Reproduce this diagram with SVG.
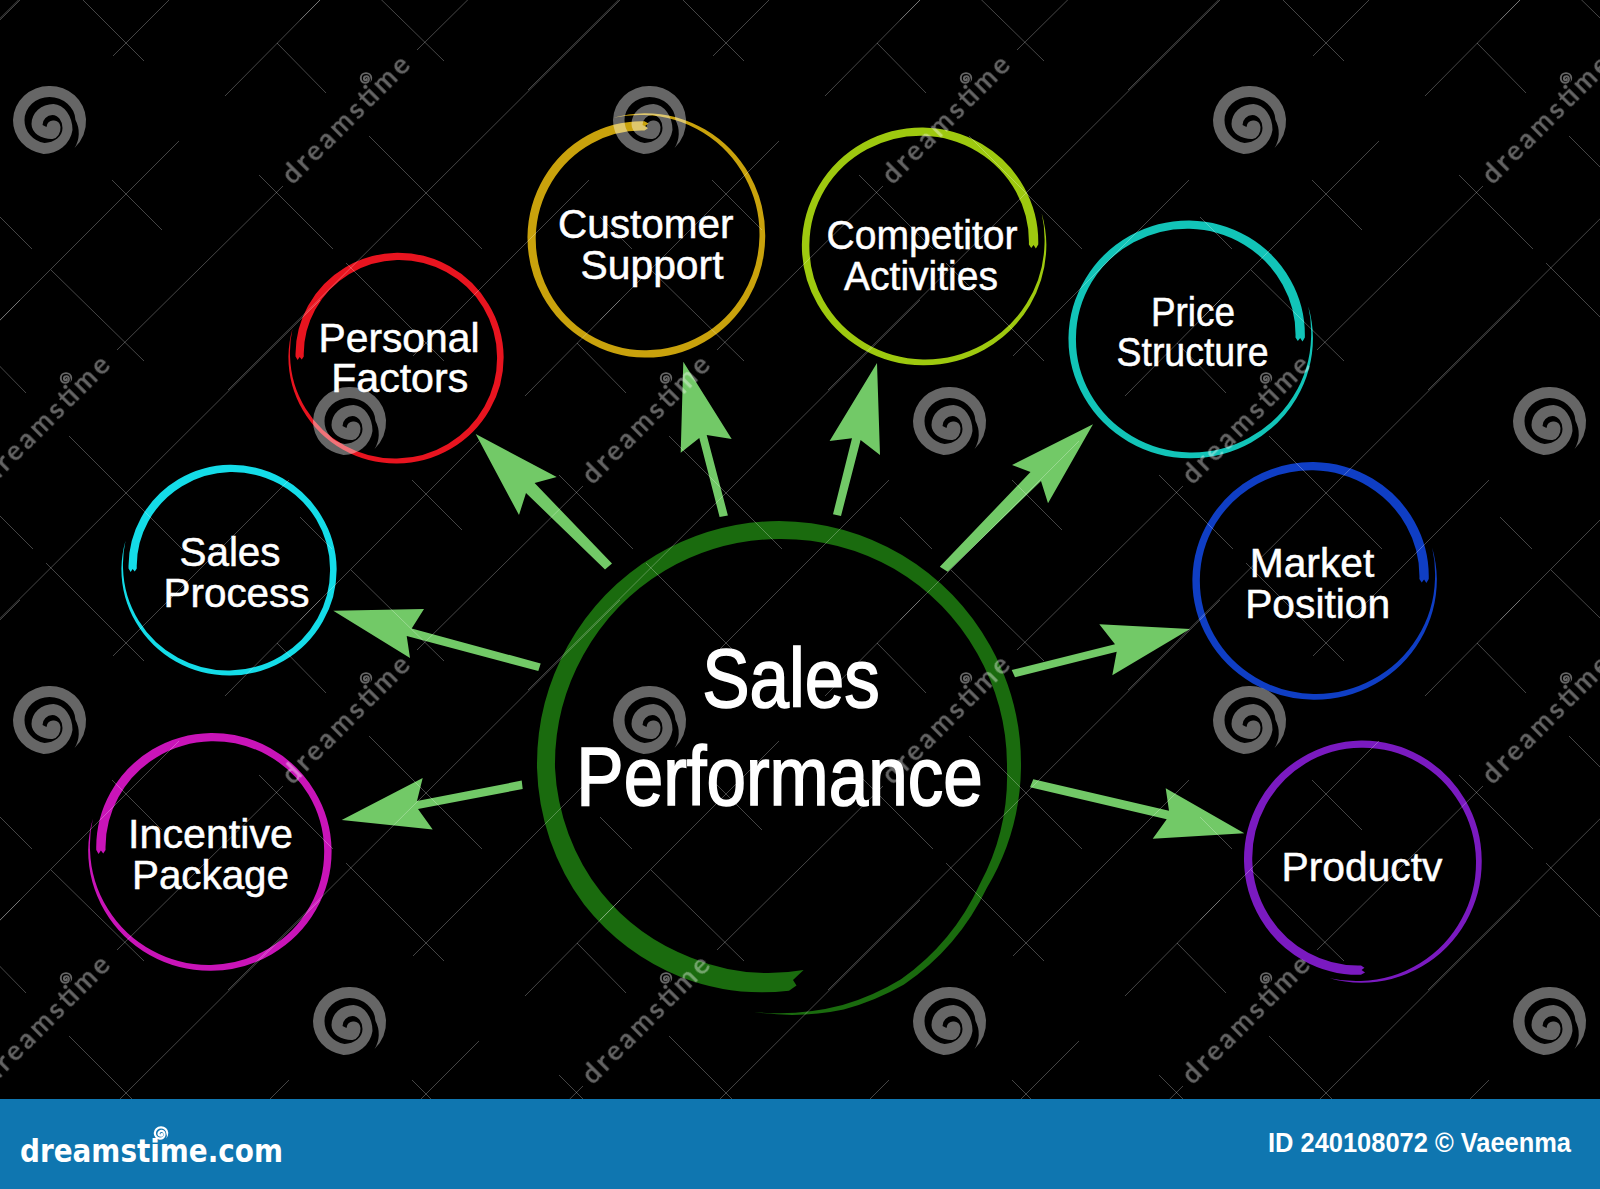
<svg xmlns="http://www.w3.org/2000/svg" width="1600" height="1189" viewBox="0 0 1600 1189">
<style>
.lbl{font-family:"Liberation Sans",Arial,sans-serif;font-size:40px;fill:#fff;stroke:#fff;stroke-width:.5;text-anchor:middle}
.big{font-family:"Liberation Sans",Arial,sans-serif;font-size:84px;fill:#fff;stroke:#fff;stroke-width:1.7;text-anchor:middle}
.arrow{fill:#72c967}
.wm{font-family:"Lato",sans-serif;font-size:27px;fill:#fff;stroke:#fff;stroke-width:.6;text-anchor:middle}
.gl{stroke:#fff;stroke-width:1;stroke-opacity:.27;fill:none}
</style>
<defs>
<path id="ring" d="M98.5 0A99 99 0 0 1 86.34 49.85A100 100 0 0 1 50.4 87.3A101 101 0 0 1 0 101.76A102 102 0 0 1 -51.09 88.49A102.5 102.5 0 0 1 -88.85 51.3A103 103 0 0 1 -103.52 0A103.5 103.5 0 0 1 -90.1 -52.02A104 104 0 0 1 -52.28 -90.55A104.5 104.5 0 0 1 0 -104.98A105 105 0 0 1 52.7 -91.28A105.5 105.5 0 0 1 91.38 -52.76A105.5 105.5 0 0 1 105.44 0A105 105 0 0 1 101.43 27.18A105 105 0 0 0 103.84 0A103 103 0 0 0 88.61 -51.16A101 101 0 0 0 50.5 -87.47A100 100 0 0 0 0 -99.98A99.5 99.5 0 0 0 -49.48 -85.7A98.5 98.5 0 0 0 -84.9 -49.02A97.5 97.5 0 0 0 -97.12 0A97 97 0 0 0 -83.66 48.3A96 96 0 0 0 -47.79 82.78A95 95 0 0 0 0 94.56A94 94 0 0 0 46.6 80.7A92.5 92.5 0 0 0 79.5 45.9A91 91 0 0 0 90.5 0L92.5 -3L94.5 -.5L96.5 -3.5Z"/>
<path id="sp" d="M25 28A38 38 0 0 0 36.5 -1A36 35 0 0 0 0 -34A36 35 0 0 0 -36.5 0A36 34 0 0 0 -6 34A29 28 0 0 0 23 10A20 26 0 0 0 4 -16A22 20 0 0 0 -18 4A20 15 0 0 0 3 19A9 11 0 0 0 11 7A6.5 6.5 0 0 0 4 .5A6.5 6.5 0 0 0 -3 7L-7 5A10 10 0 0 1 3 -5A10 13 0 0 1 13 8A18 15 0 0 1 -5 23A24 23 0 0 1 -25 0A25 23 0 0 1 0 -23A26 24 0 0 1 26 0A28 28 0 0 1 25 28Z"/>
<g id="gt" class="gl">
<path d="M46 -37L144 61M277 43L326 93M351 -30L444 61M112 180L162 230M0 217L32 249M259 175L333 249M369 136L482 249"/>
<path d="M113 56L289 -120M0 320L179 141M225 96L320 0M117 350L283 186M228 390L620 0"/>
</g>
<pattern id="grid" width="600" height="600" patternUnits="userSpaceOnUse">
<use href="#gt" x="0" y="0"/><use href="#gt" x="600" y="0"/><use href="#gt" x="-600" y="0"/>
<use href="#gt" x="300" y="300"/><use href="#gt" x="-300" y="300"/><use href="#gt" x="300" y="-300"/><use href="#gt" x="-300" y="-300"/>
<use href="#gt" x="0" y="600"/><use href="#gt" x="600" y="600"/><use href="#gt" x="-600" y="600"/>
</pattern>
</defs>
<rect id="bg" width="1600" height="1099" fill="#000"/>
<g id="connectors">
<polygon class="arrow" points="333.3,610.8 424,609 411.7,628.4 540.7,663.5 538.3,671 406.7,636 410,658"/>
<polygon class="arrow" points="341.7,820 422.7,778 417,801 521.7,780.6 522.7,789 418,809 432.7,829.5"/>
<polygon class="arrow" points="475.7,434 556.7,477 534.6,483 612,563.5 605,569.4 526,493 519,515"/>
<polygon class="arrow" points="683.3,361.7 731.7,439 706.7,435 727.9,515.5 719.6,517 699.3,438 680.7,452.7"/>
<polygon class="arrow" points="877,363 880,455 860.6,440 841,516 833,514.3 852,438.3 829.6,441"/>
<polygon class="arrow" points="1093,424.3 1048,503.3 1041,481 947.7,571.7 939.8,566.7 1030.5,472 1012,465"/>
<polygon class="arrow" points="1190,629 1099.3,624.3 1115,644.3 1011.7,670 1015,677.3 1116.7,651.7 1112.3,675.3"/>
<polygon class="arrow" points="1244.3,833.3 1165.7,788.3 1169,810.7 1033.3,779.3 1030,787.3 1166.7,819.3 1152.7,838.7"/>
</g>
<g id="node-center">
<path fill="#1a6b0e" d="M803.6 970L793 980L796.5 985.5L789 990.7A225 225 0 0 1 681.3 977.3A235 235 0 0 1 584.1 904.6A240 240 0 0 1 537 768A244 244 0 0 1 567.7 646A246 246 0 0 1 656 555A247 247 0 0 1 779 521A247 247 0 0 1 902 555A246 246 0 0 1 990.3 646A244 244 0 0 1 1021 768A242 242 0 0 1 986.8 888A245 245 0 0 1 904 984.5A250 250 0 0 1 843.7 1009.5A250 250 0 0 1 754 1012A248 248 0 0 0 842.6 1005.1A246 246 0 0 0 901 979.3A238 238 0 0 0 979.9 884A230 230 0 0 0 1007 768A229 229 0 0 0 977.3 653.5A229 229 0 0 0 894 568.8A229 229 0 0 0 779 539A229 229 0 0 0 665 570.5A227 227 0 0 0 583.3 655A225 225 0 0 0 555 768A220 220 0 0 0 601.3 892.6A212 212 0 0 0 690.6 957.4A205 205 0 0 0 803.6 970Z"/>
<text class="big" transform="translate(791 706.6) scale(.845 1)">Sales</text>
<text class="big" transform="translate(779.5 804.8) scale(.845 1)">Performance</text>
</g>
<g id="node-incentive-package">
<use href="#ring" fill="#c914b8" transform="translate(211 850) rotate(180) scale(1.165 1.15)"/>
<text class="lbl" x="210.5" y="848" textLength="165" lengthAdjust="spacingAndGlyphs">Incentive</text><text class="lbl" x="210.5" y="889" textLength="157" lengthAdjust="spacingAndGlyphs">Package</text>
</g>
<g id="node-sales-process">
<use href="#ring" fill="#14dce8" transform="translate(230 568.5) rotate(180) scale(1.03 1.02)"/>
<text class="lbl" x="230" y="566" textLength="101" lengthAdjust="spacingAndGlyphs">Sales</text><text class="lbl" x="236.5" y="606.5" textLength="146" lengthAdjust="spacingAndGlyphs">Process</text>
</g>
<g id="node-personal-factors">
<use href="#ring" fill="#e8141f" transform="translate(397 356.5) rotate(180) scale(1.03 1.02)"/>
<text class="lbl" x="399" y="351.5" textLength="161" lengthAdjust="spacingAndGlyphs">Personal</text><text class="lbl" x="399.7" y="392" textLength="137" lengthAdjust="spacingAndGlyphs">Factors</text>
</g>
<g id="node-customer-support">
<use href="#ring" fill="#c9a20c" transform="translate(644.5 236.5) rotate(-90) scale(1.17 -1.15)"/>
<text class="lbl" x="645.7" y="238" textLength="175.5" lengthAdjust="spacingAndGlyphs">Customer</text><text class="lbl" x="652" y="279" textLength="143" lengthAdjust="spacingAndGlyphs">Support</text>
</g>
<g id="node-competitor-activities">
<use href="#ring" fill="#9ec90f" transform="translate(923 244.5) scale(1.17 -1.15)"/>
<text class="lbl" x="922" y="249" textLength="191" lengthAdjust="spacingAndGlyphs">Competitor</text><text class="lbl" x="921" y="290" textLength="154" lengthAdjust="spacingAndGlyphs">Activities</text>
</g>
<g id="node-price-structure">
<use href="#ring" fill="#12c4b8" transform="translate(1189.6 337.5) scale(1.17 -1.15)"/>
<text class="lbl" x="1193" y="326" textLength="84" lengthAdjust="spacingAndGlyphs">Price</text><text class="lbl" x="1192.5" y="366" textLength="152" lengthAdjust="spacingAndGlyphs">Structure</text>
</g>
<g id="node-market-position">
<use href="#ring" fill="#0f3ec4" transform="translate(1313.5 579) scale(1.17 -1.15)"/>
<text class="lbl" x="1312" y="577" textLength="124.5" lengthAdjust="spacingAndGlyphs">Market</text><text class="lbl" x="1317.7" y="617.5" textLength="145" lengthAdjust="spacingAndGlyphs">Position</text>
</g>
<g id="node-productv">
<use href="#ring" fill="#7a1ac0" transform="translate(1361 860.5) rotate(90) scale(1.16 1.15)"/>
<text class="lbl" x="1362" y="880.7" textLength="161" lengthAdjust="spacingAndGlyphs">Productv</text>
</g>
<g id="watermark">
<rect width="1600" height="1099" fill="url(#grid)"/>
<g fill="#fff" opacity=".4">
<use href="#sp" x="49.5" y="120"/><use href="#sp" x="649.5" y="120"/><use href="#sp" x="1249.5" y="120"/>
<use href="#sp" x="349.5" y="421"/><use href="#sp" x="949.5" y="421"/><use href="#sp" x="1549.5" y="421"/>
<use href="#sp" x="49.5" y="720"/><use href="#sp" x="649.5" y="720"/><use href="#sp" x="1249.5" y="720"/>
<use href="#sp" x="349.5" y="1021"/><use href="#sp" x="949.5" y="1021"/><use href="#sp" x="1549.5" y="1021"/>
<use href="#sp" transform="translate(366 78) scale(.17)"/><use href="#sp" transform="translate(966 78) scale(.17)"/><use href="#sp" transform="translate(1566 78) scale(.17)"/>
<use href="#sp" transform="translate(66 378) scale(.17)"/><use href="#sp" transform="translate(666 378) scale(.17)"/><use href="#sp" transform="translate(1266 378) scale(.17)"/>
<use href="#sp" transform="translate(366 678) scale(.17)"/><use href="#sp" transform="translate(966 678) scale(.17)"/><use href="#sp" transform="translate(1566 678) scale(.17)"/>
<use href="#sp" transform="translate(66 978) scale(.17)"/><use href="#sp" transform="translate(666 978) scale(.17)"/><use href="#sp" transform="translate(1266 978) scale(.17)"/>
</g>
<g opacity=".4">
<text class="wm" textLength="168" transform="translate(352 126) rotate(-45)">dreamstime</text>
<text class="wm" textLength="168" transform="translate(952 126) rotate(-45)">dreamstime</text>
<text class="wm" textLength="168" transform="translate(1552 126) rotate(-45)">dreamstime</text>
<text class="wm" textLength="168" transform="translate(52 426) rotate(-45)">dreamstime</text>
<text class="wm" textLength="168" transform="translate(652 426) rotate(-45)">dreamstime</text>
<text class="wm" textLength="168" transform="translate(1252 426) rotate(-45)">dreamstime</text>
<text class="wm" textLength="168" transform="translate(352 726) rotate(-45)">dreamstime</text>
<text class="wm" textLength="168" transform="translate(952 726) rotate(-45)">dreamstime</text>
<text class="wm" textLength="168" transform="translate(1552 726) rotate(-45)">dreamstime</text>
<text class="wm" textLength="168" transform="translate(52 1026) rotate(-45)">dreamstime</text>
<text class="wm" textLength="168" transform="translate(652 1026) rotate(-45)">dreamstime</text>
<text class="wm" textLength="168" transform="translate(1252 1026) rotate(-45)">dreamstime</text>
</g>
</g>
<g id="footer">
<rect y="1099" width="1600" height="90" fill="#0f76b0"/>
<text x="20" y="1162" font-family="'DejaVu Sans',sans-serif" font-size="32" font-weight="700" fill="#fff" textLength="263" lengthAdjust="spacingAndGlyphs">dreamstime.com</text>
<use href="#sp" transform="translate(161 1133) scale(.2)" fill="#fff"/>
<text x="1268" y="1152" font-family="'Liberation Sans',sans-serif" font-size="27" font-weight="700" fill="#fff" textLength="303" lengthAdjust="spacingAndGlyphs">ID 240108072 © Vaeenma</text>
</g>
</svg>
